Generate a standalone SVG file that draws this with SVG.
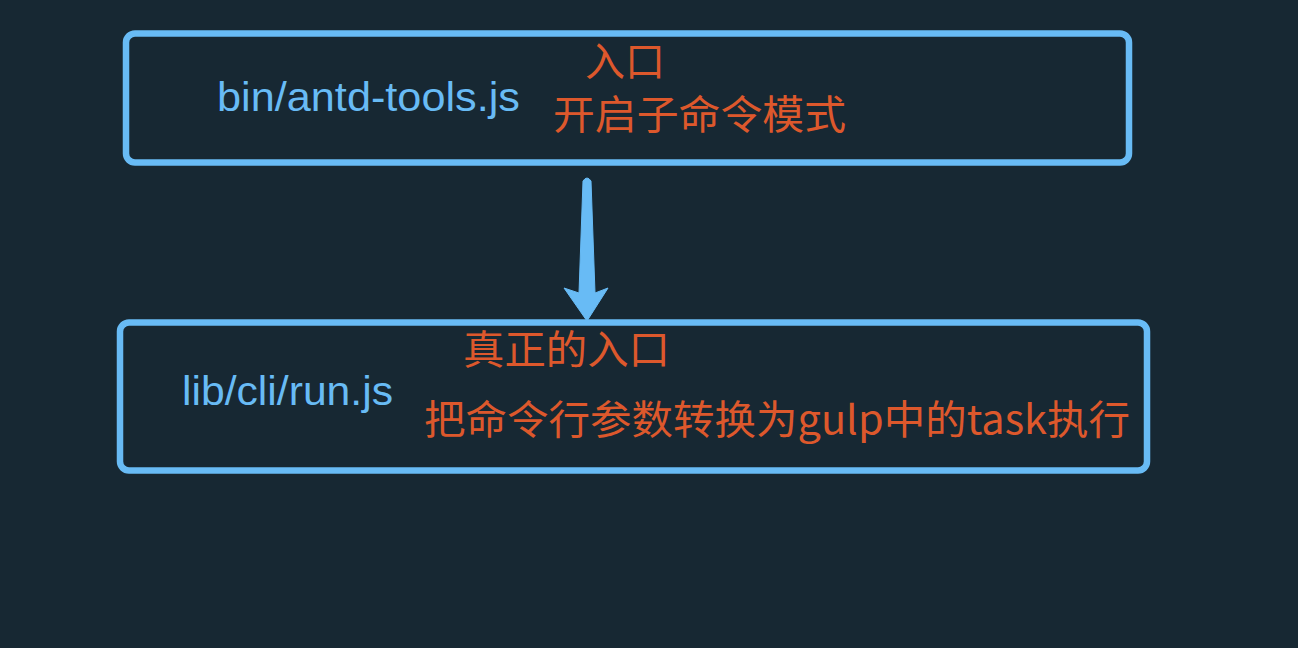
<svg xmlns="http://www.w3.org/2000/svg" width="1298" height="648" viewBox="0 0 1298 648">
<style>
.box{fill:#172833;stroke:#68BBF5;stroke-width:6.5}
.lbl{fill:#68BBF5;font-family:"Liberation Sans","Noto Sans CJK SC",sans-serif;font-size:41px}
.note{fill:#DD582C;font-family:"Noto Sans CJK SC","Liberation Sans",sans-serif;font-size:40px}
</style>
<rect width="1298" height="648" fill="#172833"/>
<g id="node-bin">
<rect class="box" x="126" y="33.5" width="1003" height="129" rx="9"/>
<text class="lbl" x="217" y="111" textLength="303" lengthAdjust="spacingAndGlyphs">bin/antd-tools.js</text>
<text class="note" x="585" y="76" font-size="38" textLength="80" lengthAdjust="spacingAndGlyphs">入口</text>
<text class="note" x="553" y="129" textLength="293" lengthAdjust="spacingAndGlyphs">开启子命令模式</text>
</g>
<g id="node-run">
<rect class="box" x="120" y="322.5" width="1027" height="148" rx="9"/>
<text class="lbl" x="182" y="405" textLength="211" lengthAdjust="spacingAndGlyphs">lib/cli/run.js</text>
<text class="note" x="463" y="364" textLength="207" lengthAdjust="spacingAndGlyphs">真正的入口</text>
<text class="note" x="424" y="434" textLength="706" lengthAdjust="spacingAndGlyphs">把命令行参数转换为gulp中的task执行</text>
</g>
<g id="connectors">
<path d="M583,181 Q587,175 591,181 L595,293 L608,288 L587,321 L564,288 L579,293 Z" fill="#68BBF5" stroke="#68BBF5" stroke-width="1" stroke-linejoin="round"/>
</g>
</svg>
